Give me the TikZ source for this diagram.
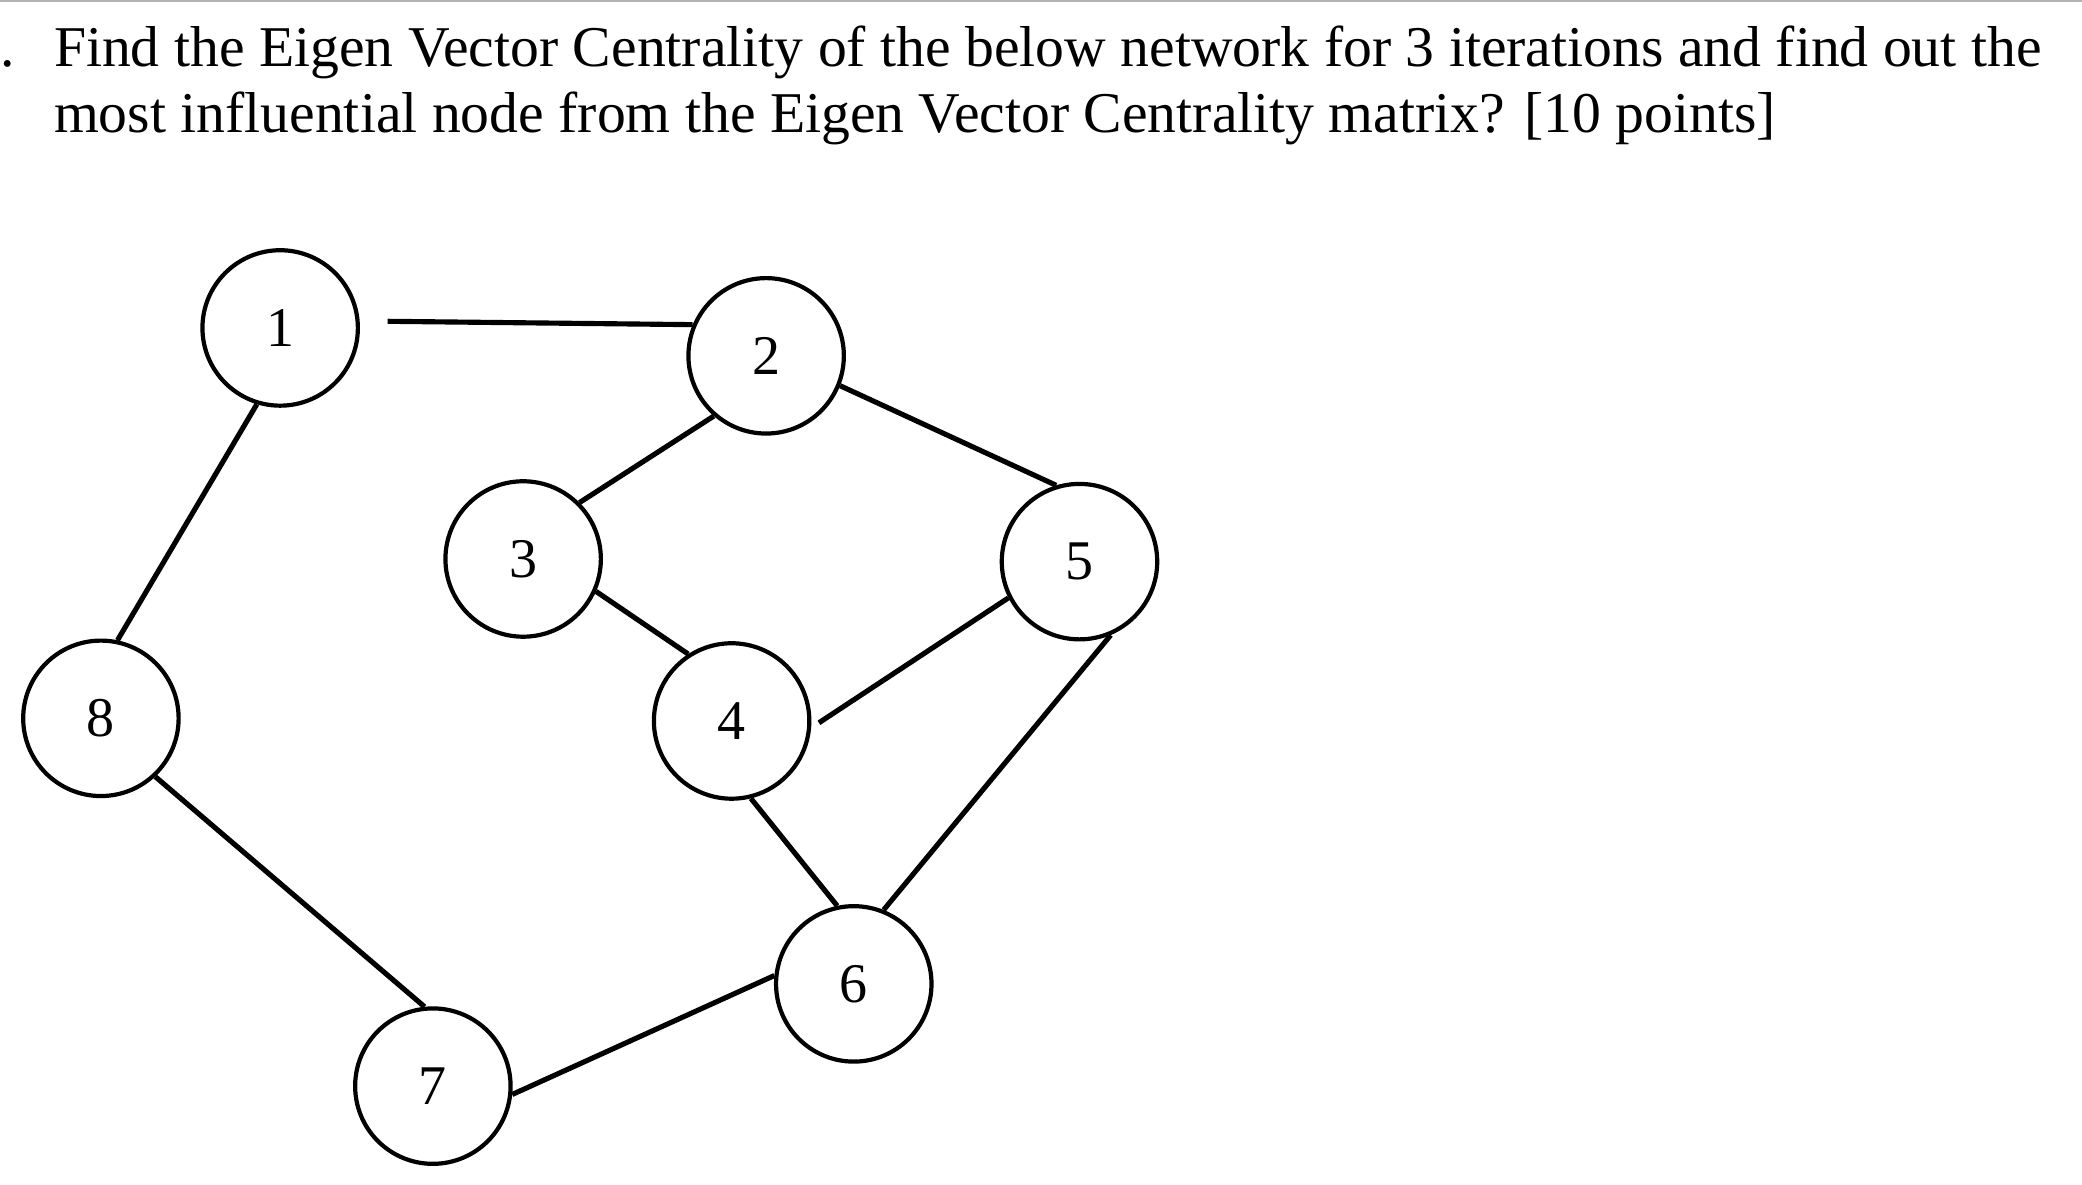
\documentclass[tikz,border=0pt]{standalone}
\usepackage{fontspec}
\setmainfont{Liberation Serif}
\begin{document}
\begin{tikzpicture}[x=0.01cm,y=-0.01cm,
  vert/.style={circle,draw,line width=0.9pt,minimum size=1.17cm,inner sep=0pt,font=\fontsize{12}{14}\selectfont},
  edge/.style={line width=1.1pt}]
\useasboundingbox (0,0) rectangle (1568,892);
\draw[gray!60,line width=0.5pt] (0,1) -- (1568,1);
\node[anchor=base west,inner sep=0pt,font=\fontsize{12.35}{14}\selectfont] (dot) at (0,50) {.};
\node[anchor=base west,inner sep=0pt,font=\fontsize{12.35}{14}\selectfont] (title1) at (40,50) {Find the Eigen Vector Centrality of the below network for 3 iterations and find out the};
\node[anchor=base west,inner sep=0pt,font=\fontsize{12.35}{14}\selectfont] (title2) at (40,100) {most influential node from the Eigen Vector Centrality matrix? [10 points]};
\node[vert] (n1) at (211,247) {1};
\node[vert] (n2) at (577,268) {2};
\node[vert] (n3) at (394,421) {3};
\node[vert] (n4) at (551,543) {4};
\node[vert] (n5) at (813,423) {5};
\node[vert] (n6) at (643,741) {6};
\node[vert] (n7) at (326,818) {7};
\node[vert] (n8) at (76,541) {8};
\draw[edge,shorten <=6pt] (n1.5) -- (n2.157);
\draw[edge] (n1.253) -- (n8.78);
\draw[edge] (n2.229) -- (n3.45);
\draw[edge] (n2.-22) -- (n5.107);
\draw[edge] (n3.-24) -- (n4.123);
\draw[edge,shorten <=2pt] (n4.-5) -- (n5.207);
\draw[edge] (n4.-76) -- (n6.102);
\draw[edge] (n5.-67) -- (n6.68);
\draw[edge] (n6.174) -- (n7.-6);
\draw[edge] (n7.96) -- (n8.-47);
\end{tikzpicture}
\end{document}
